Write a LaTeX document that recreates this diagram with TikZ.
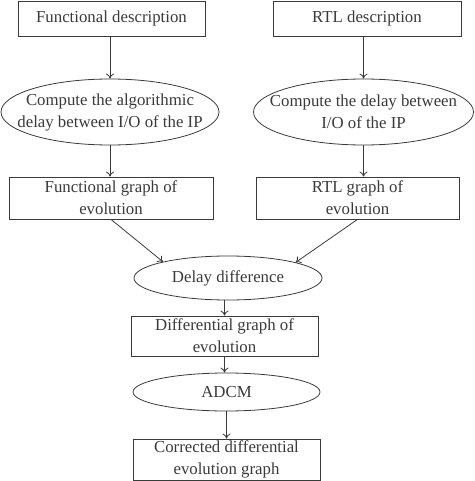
\documentclass[tikz,border=0pt]{standalone}
\usepackage{fontspec}
\setmainfont{Liberation Serif}
\usetikzlibrary{shapes.geometric,arrows.meta}

\definecolor{ink}{HTML}{3A3A3A}

\tikzset{
    box/.style={draw=ink,thick,rectangle,inner sep=0pt,align=center,text=ink,
        font=\fontsize{16.8}{22}\selectfont},
    oval/.style={draw=ink,thick,ellipse,inner xsep=-25pt,inner ysep=-6pt,align=center,text=ink,
        font=\fontsize{16.8}{22}\selectfont},
    arr/.style={draw=ink,thick,-{To[length=5pt,width=8pt]}}
}

\begin{document}
\begin{tikzpicture}[x=1pt,y=-1pt]
        \useasboundingbox (0,0) rectangle (474,481);
        % Descriptions
        \node[box,minimum width=187pt,minimum height=35pt] (fdesc) at (111.5,18.5) {Functional description};
        \node[box,minimum width=188pt,minimum height=35pt] (rdesc) at (367,18.5) {RTL description};
        % Delay computation
        \node[oval,minimum width=218pt,minimum height=66pt] (fdelay) at (110,112) {Compute the algorithmic\\delay between I/O of the IP};
        \node[oval,minimum width=220pt,minimum height=66pt] (rdelay) at (363.5,112) {Compute the delay between\\I/O of the IP};
        % Graphs of evolution
        \node[box,minimum width=204pt,minimum height=42pt] (fgraph) at (111,198) {Functional graph of\\evolution};
        \node[box,minimum width=203pt,minimum height=42pt] (rgraph) at (357.5,198) {RTL graph of\\evolution};
        % Difference and correction
        \node[oval,minimum width=188pt,minimum height=44pt] (diff) at (228,278) {Delay difference};
        \node[box,minimum width=187pt,minimum height=40pt] (dgraph) at (224.5,336) {Differential graph of\\evolution};
        \node[oval,minimum width=187pt,minimum height=38pt] (adcm) at (226.5,392) {ADCM};
        \node[box,minimum width=187pt,minimum height=41pt] (cgraph) at (226.5,459.5) {Corrected differential\\evolution graph};
        % Connections
        \draw[arr] (fdesc.south -| fdelay.north) -- (fdelay.north);
        \draw[arr] (rdesc.south -| rdelay.north) -- (rdelay.north);
        \draw[arr] (fdelay.south) -- (fgraph.north -| fdelay.south);
        \draw[arr] (rdelay.south) -- (rgraph.north -| rdelay.south);
        \draw[arr] (fgraph.south) -- (diff.166);
        \draw[arr] (rgraph.south) -- (diff.13);
        \draw[arr] (diff.south -| dgraph.north) -- (dgraph.north);
        \draw[arr] (dgraph.south) -- (adcm.north -| dgraph.south);
        \draw[arr] (adcm.south) -- (cgraph.north);
    \end{tikzpicture}
\end{document}
